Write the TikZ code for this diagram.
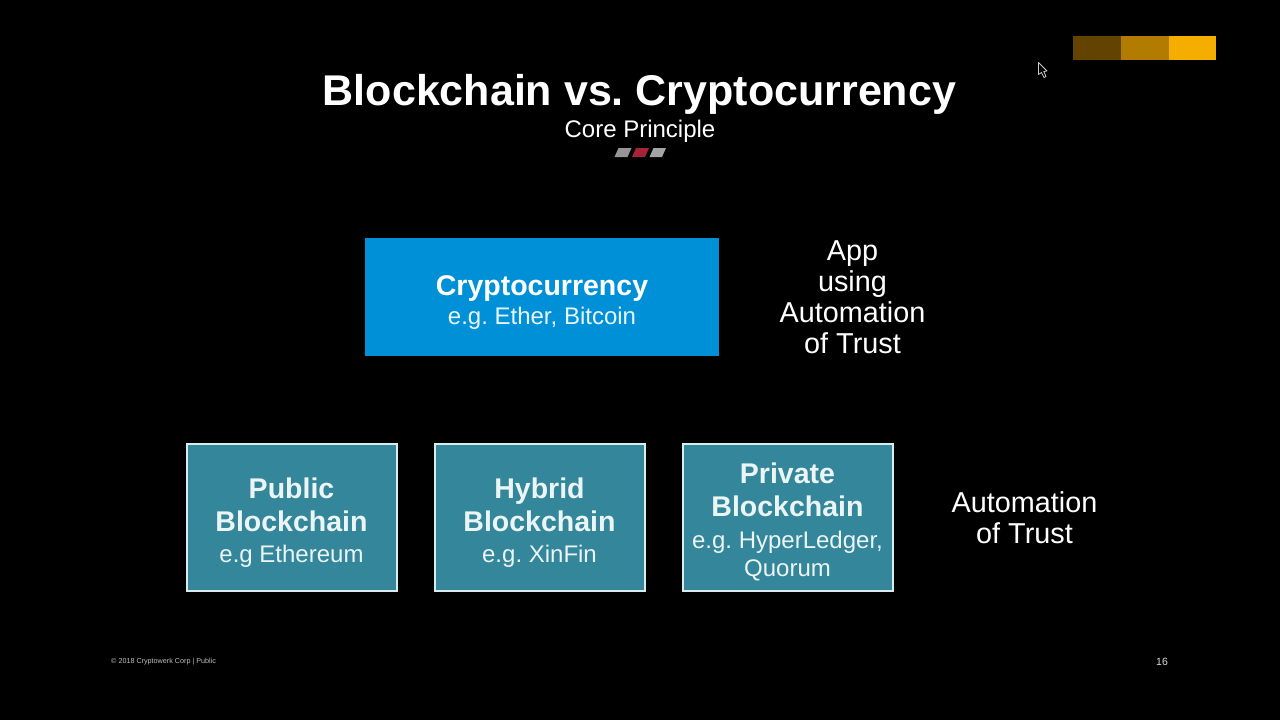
\documentclass[tikz,border=0pt]{standalone}
\usepackage{fontspec}
\setmainfont{Liberation Sans}
\frenchspacing
\newcommand{\bigbf}[1]{{\fontsize{28.5}{33}\selectfont\bfseries #1}}
\newcommand{\smalltx}[1]{{\fontsize{24}{28}\selectfont #1}}
\newcommand{\topgap}[1]{\rule{0pt}{#1pt}}
\definecolor{tealfill}{HTML}{34869A}
\definecolor{bluefill}{HTML}{0090D8}
\tikzset{
  teal box/.style={draw=white!85!teal,line width=2pt,fill=tealfill,text=white!92!teal,minimum width=210pt,minimum height=147pt,align=center,inner sep=0pt,font=\fontsize{28.5}{33}\selectfont},
  side text/.style={text=white,align=center,inner sep=0pt,font=\fontsize{28.8}{31}\selectfont},
}
\begin{document}
\begin{tikzpicture}[x=1pt,y=-1pt]
\useasboundingbox (0,0) rectangle (1280,720);
\fill[black] (0,0) rectangle (1280,720);
% logo
\fill[fill={rgb,255:red,98;green,68;blue,0}] (1073,36) rectangle (1121,60);
\fill[fill={rgb,255:red,178;green,124;blue,0}] (1121,36) rectangle (1169,60);
\fill[fill={rgb,255:red,245;green,174;blue,0}] (1169,36) rectangle (1216,60);
% cursor
\draw[white!80!black,line width=.8pt,fill=black,line join=round] (1038.5,62.5) -- (1038.5,74.5) -- (1041.5,72.5) -- (1044,77.5) -- (1046,76.5) -- (1043.8,71.5) -- (1047,71) -- cycle;
% title
\node[anchor=base,text=white,inner sep=0pt,font=\fontsize{43}{50}\selectfont\bfseries] (title) at (639.5,105) {Blockchain vs. Cryptocurrency};
\node[anchor=base,text=white,inner sep=0pt,font=\fontsize{24}{28}\selectfont] (sub) at (640,137) {Core Principle};
% title marks
\fill[fill={rgb,255:red,150;green,150;blue,150}] (614.5,157) -- (618.5,148) -- (631.5,148) -- (627.5,157) -- cycle;
\fill[fill={rgb,255:red,165;green,35;blue,55}] (632,157) -- (636,148) -- (649,148) -- (645,157) -- cycle;
\fill[fill={rgb,255:red,165;green,165;blue,165}] (649.5,157) -- (653.5,148) -- (666,148) -- (662,157) -- cycle;
% top box
\node[fill=bluefill,text=white,minimum width=354pt,minimum height=118pt,align=center,inner sep=0pt,font=\fontsize{28.5}{33}\selectfont] (crypto) at (542,297) {\topgap{31}\bigbf{Cryptocurrency}\\[-4pt]\smalltx{\color{white!92!bluefill}e.g. Ether, Bitcoin}};
\node[side text] (app) at (852.5,297) {App\\using\\Automation\\of Trust};
% lower boxes
\node[teal box] (public) at (291.5,517.5) {\topgap{31}\bigbf{Public}\\\bigbf{Blockchain}\\[-2pt]\smalltx{e.g Ethereum}};
\node[teal box] (hybrid) at (539.5,517.5) {\topgap{31}\bigbf{Hybrid}\\\bigbf{Blockchain}\\[-2pt]\smalltx{e.g. XinFin}};
\node[teal box] (private) at (787.5,517.5) {\topgap{30}\bigbf{Private}\\\bigbf{Blockchain}\\[-1pt]\smalltx{e.g. HyperLedger,}\\[-5pt]\smalltx{Quorum}};
\node[side text] (auto) at (1024.5,517.5) {Automation\\of Trust};
% footer
\node[anchor=base west,text=white!75!black,inner sep=0pt,font=\fontsize{7.2}{8}\selectfont] (copy) at (111,663) {© 2018 Cryptowerk Corp | Public};
\node[anchor=base,text=white!85!black,inner sep=0pt,font=\fontsize{10.5}{12}\selectfont] (page) at (1162,665) {16};
\end{tikzpicture}
\end{document}
